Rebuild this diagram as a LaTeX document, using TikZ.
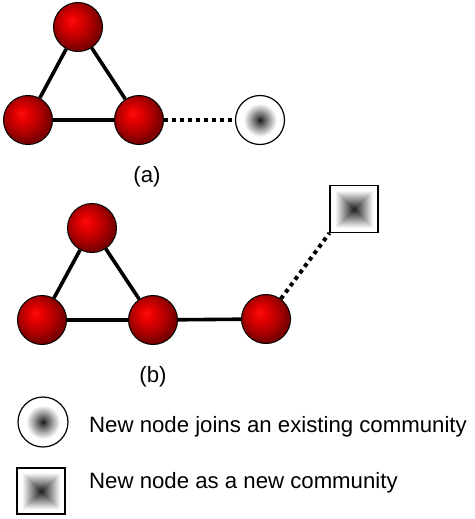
\documentclass[tikz,border=0pt]{standalone}
\usepackage{fontspec}
\setmainfont{Liberation Sans}
\usepackage{tikz}
\usetikzlibrary{positioning}

\pgfdeclareradialshading{redsphere}{\pgfpoint{-7bp}{7bp}}{%
  color(0bp)=(red!95!white); color(7bp)=(red!90!black); color(17bp)=(red!70!black);
  color(25bp)=(red!50!black); color(50bp)=(red!40!black)}
\pgfdeclareradialshading{grayspot}{\pgfpoint{0bp}{0bp}}{%
  color(0bp)=(black!92); color(3bp)=(black!72); color(10bp)=(black!35);
  color(17bp)=(white); color(50bp)=(white)}
\pgfdeclarefunctionalshading{grayframe}{\pgfpoint{-50bp}{-50bp}}{\pgfpoint{50bp}{50bp}}{}{
  abs exch abs 2 copy lt {exch} if pop 20 div 0.88 mul 0.12 add
  dup 1 gt {pop 1} if dup dup
}

\begin{document}
\begin{tikzpicture}[
        x=1pt, y=-1pt,
        font=\fontsize{22.2}{27}\selectfont,
        member/.style={circle, draw=black, line width=1pt, inner sep=0pt, minimum size=49pt, shading=redsphere},
        joiner/.style={circle, draw=black, line width=1.2pt, inner sep=0pt, minimum size=49pt, shading=grayspot},
        founder/.style={rectangle, draw=black, line width=1.2pt, inner sep=0pt, minimum width=48pt, minimum height=47pt, shading=grayframe},
        link/.style={line width=3.6pt},
        newlink/.style={line width=4pt, dash pattern=on 4pt off 4pt}
    ]
        \useasboundingbox (0,0) rectangle (474,519);

        % (a)
        \node[member] (a1) at (78,27) {};
        \node[member] (a2) at (28,120) {};
        \node[member] (a3) at (139,120) {};
        \node[joiner] (anew) at (260,120) {};
        \node (alab) at (147,177) {(a)};

        \draw[link] (a1) -- (a2);
        \draw[link] (a1) -- (a3);
        \draw[link] (a2) -- (a3);
        \draw[newlink] (a3) -- (anew);

        % (b)
        \node[member] (b1) at (92,228) {};
        \node[member] (b2) at (42,320) {};
        \node[member] (b3) at (153,320) {};
        \node[member] (b4) at (266,319) {};
        \node[founder] (bnew) at (354,209) {};
        \node (blab) at (153,377) {(b)};

        \draw[link] (b1) -- (b2);
        \draw[link] (b1) -- (b3);
        \draw[link] (b2) -- (b3);
        \draw[link] (b3) -- (b4);
        \draw[newlink] (b4) -- (bnew.south west);

        % legend
        \node[joiner, minimum size=50pt] (keyjoin) at (43,422) {};
        \node[founder, minimum height=46pt] (keyfound) at (41,491) {};
        \node[anchor=base west, inner sep=0pt] (keyjointxt) at (89,432) {New node joins an existing community};
        \node[anchor=base west, inner sep=0pt] (keyfoundtxt) at (89,488) {New node as a new community};
    \end{tikzpicture}
\end{document}
